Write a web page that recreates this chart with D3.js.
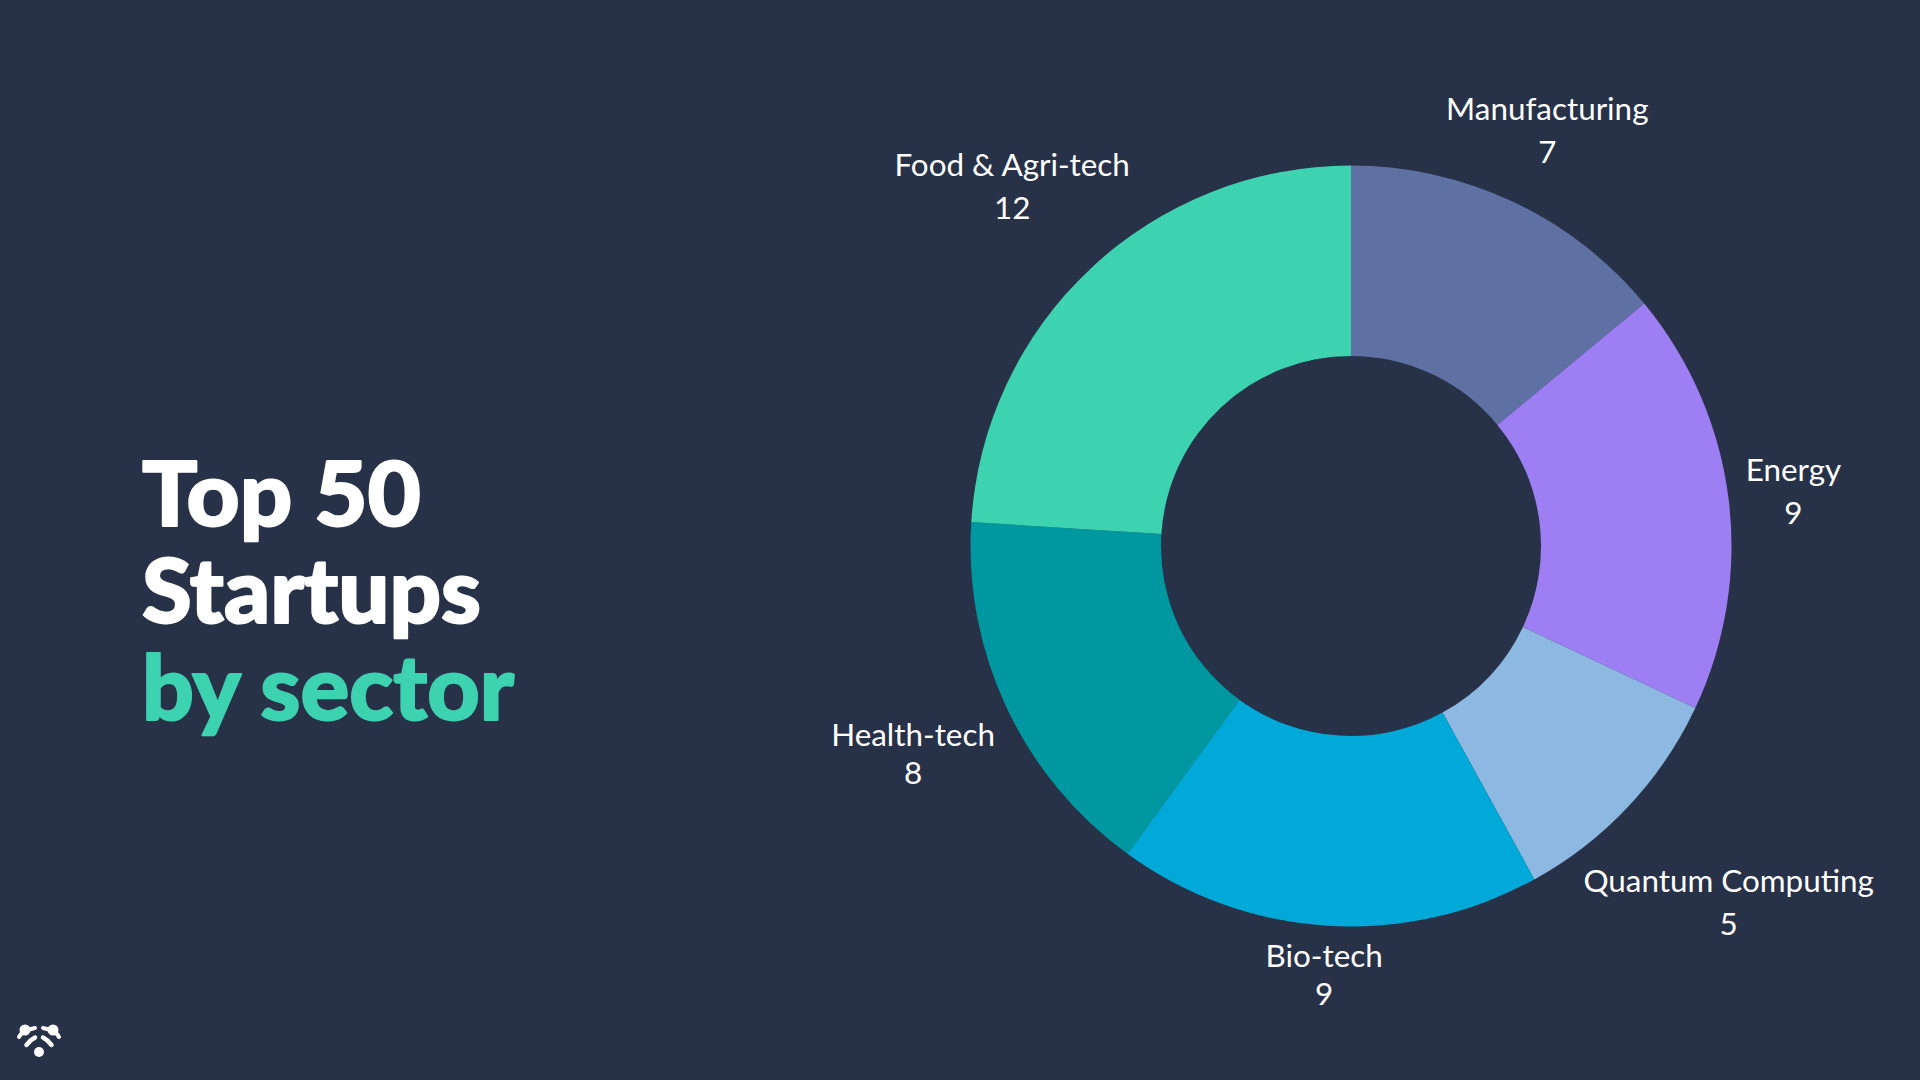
<!DOCTYPE html>
<html>
<head>
<meta charset="utf-8">
<script src="https://cdn.jsdelivr.net/npm/d3@7"></script>
<style>
  html, body { margin: 0; padding: 0; background: #273248; }
  svg { display: block; }
</style>
</head>
<body>
<div class="canva"></div>
<script>
const sectors = ['Manufacturing', 'Energy', 'Quantum Computing', 'Bio-tech', 'Health-tech', 'Food & Agri-tech'];
const counts = [7, 9, 5, 9, 8, 12];
const sliceColors = ['#5f71a3', '#9d7ff3', '#8db8e2', '#00a9d8', '#0098a0', '#3dd2b0'];
const titleLines = ['Top 50', 'Startups', 'by sector'];
const titleColors = ['#ffffff', '#ffffff', '#3dd2b0'];
const titleWidths = [279, 339, 372];

// label layout, per slice
const labelRadius = [461, 446, 518, 428, 484, 495];
const labelLineGap = [42, 42, 42, 37, 37, 42];

const width = 1920;
const height = 1080;
const cx = 1351;
const cy = 546;
const outerR = 380.5;
const innerR = 190;

const svg = d3.select('.canva').append('svg')
    .attr('width', width)
    .attr('height', height);

svg.append('rect')
    .attr('width', width)
    .attr('height', height)
    .attr('fill', '#273248');

// donut
const color = d3.scaleOrdinal().domain(sectors).range(sliceColors);
const pie = d3.pie().value((d, i) => counts[sectors.indexOf(d)]).sort(null);
const arc = d3.arc().innerRadius(innerR).outerRadius(outerR);

const chart = svg.append('g').attr('transform', `translate(${cx},${cy})`);

const slices = pie(sectors);

chart.selectAll('path')
    .data(slices)
    .enter().append('path')
    .attr('d', arc)
    .attr('fill', (d) => color(d.data));

// labels sit on the slice's mid angle
const labels = chart.selectAll('g.label')
    .data(slices)
    .enter().append('g')
    .attr('class', 'label')
    .attr('transform', (d, i) => {
        const a = (d.startAngle + d.endAngle) / 2;
        return `translate(${Math.sin(a) * labelRadius[i]},${-Math.cos(a) * labelRadius[i]})`;
    })
    .attr('text-anchor', 'middle')
    .attr('fill', '#ffffff')
    .attr('font-family', 'Lato, sans-serif')
    .attr('font-size', 31.4);

labels.append('text')
    .attr('y', (d, i) => -labelLineGap[i] / 2 + 12)
    .text((d) => d.data);

labels.append('text')
    .attr('y', (d, i) => labelLineGap[i] / 2 + 13)
    .text((d) => d.value);

// title, squeezed to the reference's line widths
svg.append('g').selectAll('text')
    .data(titleLines)
    .enter().append('text')
    .attr('x', 142)
    .attr('y', (d, i) => 526 + i * 97)
    .attr('fill', (d, i) => titleColors[i])
    .attr('stroke', (d, i) => titleColors[i])
    .attr('stroke-width', 2)
    .attr('stroke-linejoin', 'round')
    .attr('font-family', 'Lato, sans-serif')
    .attr('font-weight', 900)
    .attr('font-size', 90)
    .attr('textLength', (d, i) => titleWidths[i])
    .attr('lengthAdjust', 'spacingAndGlyphs')
    .text((d) => d);

// logo
const logo = svg.append('g')
    .attr('fill', 'none')
    .attr('stroke', '#ffffff')
    .attr('stroke-linecap', 'round');

logo.append('circle').attr('cx', 39).attr('cy', 1052).attr('r', 5).attr('fill', '#ffffff').attr('stroke', 'none');
logo.append('path').attr('stroke-width', 4.5).attr('d', 'M26.5,1045 Q30,1040 35,1037.5 M51.5,1045 Q48,1040 43,1037.5');
logo.append('path').attr('stroke-width', 4).attr('d', 'M19,1037 Q21,1031 35,1028 M59,1037 Q57,1031 43,1028');
logo.append('circle').attr('cx', 25).attr('cy', 1030).attr('r', 5.5).attr('fill', '#ffffff').attr('stroke', 'none');
logo.append('circle').attr('cx', 53).attr('cy', 1030).attr('r', 5.5).attr('fill', '#ffffff').attr('stroke', 'none');
</script>
</body>
</html>
